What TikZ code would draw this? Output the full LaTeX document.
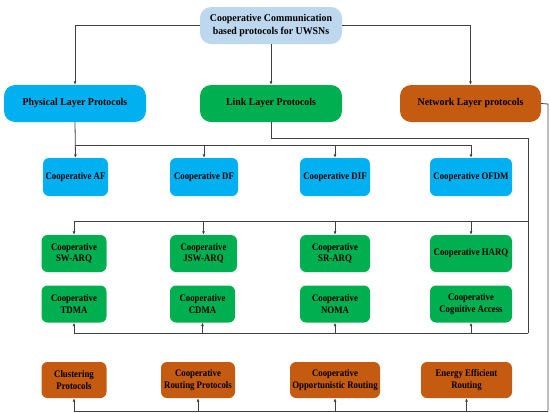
\documentclass[tikz,border=0pt]{standalone}
\usepackage{fontspec}
\setmainfont{Liberation Serif}
\newfontfamily\bigfont[FakeStretch=0.95]{Liberation Serif}
\newfontfamily\smallfont[FakeStretch=0.88]{Liberation Serif}
\usetikzlibrary{arrows.meta}
\definecolor{topc}{HTML}{BDD7EE}
\definecolor{phyc}{HTML}{00B0F0}
\definecolor{linkc}{HTML}{00B050}
\definecolor{netc}{HTML}{C55A11}
\definecolor{linec}{HTML}{404040}
\begin{document}
\begin{tikzpicture}[x=1pt,y=-1pt,
  big/.style={rounded corners=11pt, draw=none, minimum height=37pt, minimum width=142pt, align=center, font=\bigfont\fontsize{10.4}{13.5}\selectfont\bfseries, inner sep=0pt},
  small/.style={rounded corners=6pt, draw=none, minimum height=37pt, align=center, font=\smallfont\fontsize{10}{11.6}\selectfont\bfseries, inner sep=0pt},
  conn/.style={draw=linec, line width=0.8pt},
  arr/.style={conn, -{Latex[length=3.5pt,width=3pt]}}]
\useasboundingbox (0,0) rectangle (550,413);
% top and level 2
\node[big, fill=topc] (top) at (271,25.5) {Cooperative Communication\\based protocols for UWSNs};
\node[big, fill=phyc] (phys) at (75,103.5) {Physical Layer Protocols};
\node[big, fill=linkc] (link) at (271,103.5) {Link Layer Protocols};
\node[big, fill=netc, minimum width=141pt] (net) at (470.5,103.5) {Network Layer protocols};
% row 1
\node[small, fill=phyc, minimum width=65pt, minimum height=38pt] (af) at (75.5,177) {Cooperative AF};
\node[small, fill=phyc, minimum width=68pt, minimum height=38pt] (df) at (204,177) {Cooperative DF};
\node[small, fill=phyc, minimum width=70pt, minimum height=38pt] (dif) at (335,177) {Cooperative DIF};
\node[small, fill=phyc, minimum width=82pt, minimum height=38pt] (ofdm) at (471,177) {Cooperative OFDM};
% row 2
\node[small, fill=linkc, minimum width=65pt] (sw) at (74,253.5) {Cooperative\\SW-ARQ};
\node[small, fill=linkc, minimum width=67pt] (jsw) at (203.5,253.5) {Cooperative\\JSW-ARQ};
\node[small, fill=linkc, minimum width=70pt] (sr) at (335,253.5) {Cooperative\\SR-ARQ};
\node[small, fill=linkc, minimum width=82pt] (harq) at (471,253.5) {Cooperative HARQ};
% row 3
\node[small, fill=linkc, minimum width=65pt] (tdma) at (74,304) {Cooperative\\TDMA};
\node[small, fill=linkc, minimum width=65pt] (cdma) at (202.5,304) {Cooperative\\CDMA};
\node[small, fill=linkc, minimum width=70pt] (noma) at (335,304) {Cooperative\\NOMA};
\node[small, fill=linkc, minimum width=82pt] (cog) at (471,304) {Cooperative\\Cognitive Access};
% row 4
\node[small, fill=netc, minimum width=65pt, minimum height=36pt] (clus) at (74,380) {Clustering\\Protocols};
\node[small, fill=netc, minimum width=74pt, minimum height=36pt] (rout) at (198,380) {Cooperative\\Routing Protocols};
\node[small, fill=netc, minimum width=90pt, minimum height=36pt] (opp) at (335,380) {Cooperative\\Opportunistic Routing};
\node[small, fill=netc, minimum width=91pt, minimum height=36pt] (ener) at (466.5,380) {Energy Efficient\\Routing};
% top connectors
\draw[arr] (top.west) -| (phys.north);
\draw[arr] (top.south) -- (link.north);
\draw[arr] (top.east) -| (net.north);
% physical
\coordinate (pb) at (75,145);
\draw[arr] (phys.south) -- (af.north);
\draw[arr] (pb) -| (df.north);
\draw[arr] (pb) -| (dif.north);
\draw[arr] (pb) -| (ofdm.north);
% link
\coordinate (lr) at (528,138);
\coordinate (lm) at (528,221.5);
\coordinate (lb) at (528,333);
\draw[conn] (link.south) |- (lr) -- (lb);
\draw[arr] (lm) -| (sw.north);
\draw[arr] (lm) -| (jsw.north);
\draw[arr] (lm) -| (sr.north);
\draw[arr] (lm) -| (harq.north);
\draw[arr] (lb) -| (tdma.south);
\draw[arr] (lb) -| (cdma.south);
\draw[arr] (lb) -| (noma.south);
\draw[arr] (lb) -| (cog.south);
% network
\coordinate (nr) at (548,104);
\coordinate (nb) at (548,411);
\draw[conn] (net.east) -- (nr) -- (nb);
\draw[arr] (nb) -| (clus.south);
\draw[arr] (nb) -| (rout.south);
\draw[arr] (nb) -| (opp.south);
\draw[arr] (nb) -| (ener.south);
\end{tikzpicture}
\end{document}
